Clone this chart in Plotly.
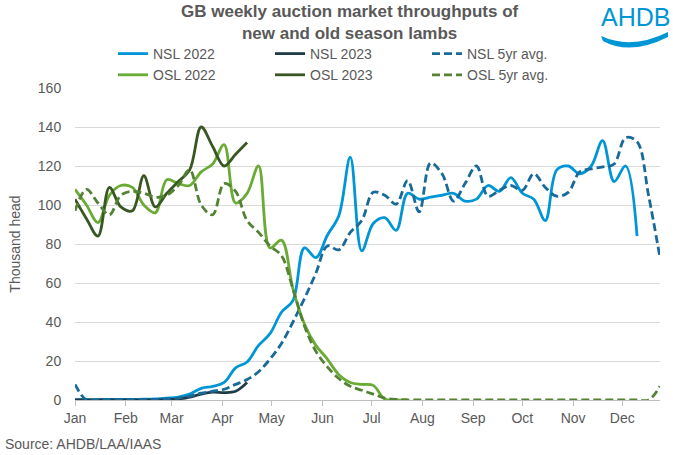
import pandas as pd
import plotly.graph_objects as go

# ---- data (thousand head, weekly) ----
weeks = pd.date_range("2022-01-01", periods=52, freq="7D")

nsl_2022 = [0.2, 0.2, 0.2, 0.3, 0.3, 0.3, 0.4, 0.6, 1.0, 1.5,
            3, 6, 7, 9, 16.5, 19.5, 28, 34, 45, 51,
            78, 73, 84.5, 94.5, 124.5, 76.5, 90.5, 93.5, 87, 106,
            103, 104, 105, 106, 102, 103, 110, 107, 114, 106,
            103, 92, 118, 120, 116, 120, 133, 112, 120, 84,
            None, None]
nsl_2023 = [0, 0, 0, 0, 0, 0, 0, 0, 0.2, 0.5,
            1.5, 3, 4, 3.8, 4.5, 9] + [None] * 36
nsl_5yr = [8, 0, 0.1, 0.1, 0.1, 0.2, 0.2, 0.3, 0.5, 1,
           2, 3.5, 4.5, 5.5, 8, 10.5, 14.5, 21, 29, 40,
           52, 65, 79, 77, 86, 92, 106.5, 105, 100.5, 112.5,
           96.5, 121.5, 116, 102, 111, 120, 104.5, 107.5, 110, 107.5,
           116, 109, 104.5, 106.5, 117, 118.5, 119.5, 121, 134.5, 132.5,
           105, 73]
osl_2022 = [108, 100, 91, 105, 110, 109, 100, 96, 113, 111,
            110, 117, 121, 131, 101, 106, 120, 78, 82, 57,
            39, 28, 21, 13, 9, 8, 7.5, 0.5, 0, 0] + [None] * 22
osl_2023 = [103, 93, 84, 109, 99, 97, 115, 99, 106, 112,
            118, 140, 130, 120, 126, 132] + [None] * 36
osl_5yr = [97, 108, 101, 95, 105, 107, 106, 104, 105, 110,
           118, 100, 95, 111, 107, 92, 86, 79, 74, 57,
           38, 25, 17, 11, 7, 5, 3, 1, 0.3, 0.1] + [0] * 20 + [0, 7]

series_names = ["NSL 2022", "NSL 2023", "NSL 5yr avg.",
                "OSL 2022", "OSL 2023", "OSL 5yr avg."]
series_values = [nsl_2022, nsl_2023, nsl_5yr, osl_2022, osl_2023, osl_5yr]
series_colors = ["#0096D6", "#1F3C48", "#176A99", "#6AAB35", "#385723", "#548235"]
series_dash = ["solid", "solid", "8px,4px", "solid", "solid", "8px,4px"]

month_ticks = pd.date_range("2022-01-01", periods=12, freq="MS")
month_labels = ["Jan", "Feb", "Mar", "Apr", "May", "Jun",
                "Jul", "Aug", "Sep", "Oct", "Nov", "Dec"]
y_ticks = [0, 20, 40, 60, 80, 100, 120, 140, 160]

FONT = "Liberation Sans, Arial, sans-serif"
GREY = "#595959"

W, H = 673, 455
ML, MR, MT, MB = 75, 13, 88, 55

fig = go.Figure()
for name, vals, col, dash in zip(series_names, series_values, series_colors, series_dash):
    fig.add_trace(go.Scatter(
        x=weeks, y=vals, name=name, mode="lines",
        line=dict(color=col, width=2.8, dash=dash, shape="spline", smoothing=1.0),
        connectgaps=False,
    ))

def px(xp):
    return (xp - ML) / (W - ML - MR)

def py(yp):
    return (H - MB - yp) / (H - MT - MB)

fig.update_layout(
    width=W, height=H,
    margin=dict(l=ML, r=MR, t=MT, b=MB),
    paper_bgcolor="white", plot_bgcolor="white",
    font=dict(family=FONT, size=14, color=GREY),
    legend=dict(
        orientation="h", x=px(113), xanchor="left", y=py(38), yanchor="top",
        entrywidth=112, entrywidthmode="pixels",
        font=dict(family=FONT, size=14, color=GREY),
        tracegroupgap=0, bgcolor="rgba(0,0,0,0)",
    ),
    showlegend=True,
    hovermode=False,
)

# chart title (two lines)
fig.add_annotation(
    text="<b>GB weekly auction market throughputs of<br>new and old season lambs</b>",
    xref="paper", yref="paper", x=px(350), y=py(0), xanchor="center", yanchor="top",
    showarrow=False, align="center",
    font=dict(family=FONT, size=17, color=GREY),
)

fig.update_xaxes(
    type="date", range=[weeks[0], weeks[-1]],
    tickvals=month_ticks, ticktext=month_labels,
    showgrid=False, showline=True, linecolor="#BFBFBF", linewidth=1,
    ticks="outside", ticklen=5, tickcolor="#BFBFBF",
    tickfont=dict(family=FONT, size=14, color=GREY), zeroline=False,
)
fig.update_yaxes(
    range=[0, 160], tickvals=y_ticks,
    showgrid=True, gridcolor="#D9D9D9", gridwidth=1,
    showline=False, zeroline=False,
    ticks="outside", ticklen=10, tickcolor="rgba(0,0,0,0)",
    tickfont=dict(family=FONT, size=14, color=GREY),
    title=dict(text="Thousand head", standoff=13,
               font=dict(family=FONT, size=14, color=GREY)),
)

# source note
fig.add_annotation(
    text="Source: AHDB/LAA/IAAS", xref="paper", yref="paper",
    x=px(3), y=py(444), xanchor="left", yanchor="middle",
    showarrow=False, font=dict(family=FONT, size=14, color=GREY),
)
# AHDB logo (text + swoosh)
fig.add_annotation(
    text="AHDB", xref="paper", yref="paper",
    x=px(635), y=py(17), xanchor="center", yanchor="middle",
    showarrow=False, font=dict(family=FONT, size=25, color="#0096D6"),
)
swoosh = "M {x0},{y0} Q {x1},{y1} {x2},{y2} L {x3},{y3} Q {x4},{y4} {x5},{y5} Z".format(
    x0=px(601), y0=py(36), x1=px(632), y1=py(50), x2=px(668), y2=py(32),
    x3=px(668), y3=py(37), x4=px(630), y4=py(56), x5=px(603), y5=py(41),
)
fig.add_shape(type="path", path=swoosh, xref="paper", yref="paper",
              fillcolor="#0096D6", line=dict(width=0))

fig.write_html("out.html")
